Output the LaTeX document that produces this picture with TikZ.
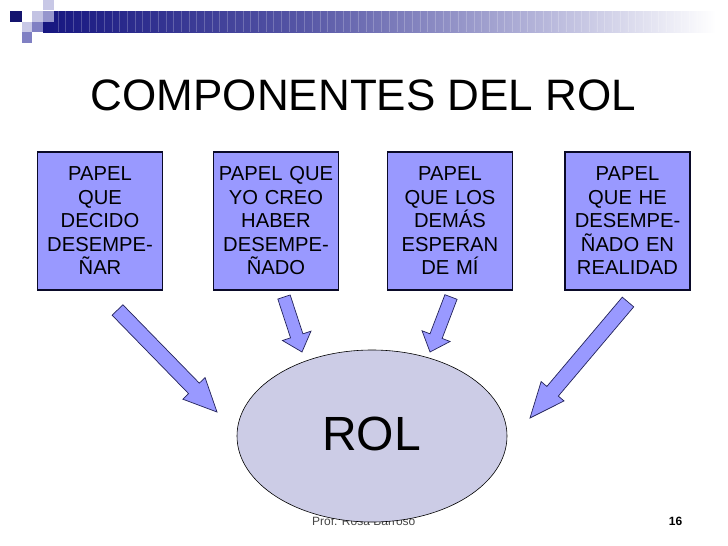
\documentclass[tikz,border=0pt]{standalone}
\usepackage{fontspec}
\setmainfont{Liberation Sans}
\usetikzlibrary{calc,shapes.geometric}
\definecolor{boxfill}{RGB}{153,153,255}
\definecolor{ellfill}{RGB}{204,204,230}
\definecolor{edgedark}{RGB}{10,10,40}
\definecolor{arrowedge}{RGB}{35,35,90}
\definecolor{bnA}{RGB}{22,22,128}
\definecolor{bnB}{RGB}{85,85,165}
\definecolor{bnC}{RGB}{185,185,220}
\definecolor{sqdark}{RGB}{20,20,110}
\definecolor{sqlight}{RGB}{200,200,230}
\definecolor{sqmid}{RGB}{150,150,205}
\definecolor{sqmed}{RGB}{128,128,195}
\definecolor{footgray}{RGB}{70,70,70}
\tikzset{
  papelbox/.style={draw=edgedark, line width=1.2pt, fill=boxfill, minimum width=125pt,
    minimum height=138pt, text width=124pt, align=center, inner sep=0pt,
    font=\fontsize{20.2}{23.5}\selectfont},
  rolell/.style={ellipse, draw=black, line width=0.6pt, fill=ellfill, minimum width=270pt,
    minimum height=172pt, inner sep=0pt},
  blockstyle/.style={draw=arrowedge, line width=0.7pt, fill=boxfill, line join=miter},
}
\newcommand{\blockarr}[5]{%
  \coordinate (#1h) at ($(#2)!#5!(#1)$);
  \draw[blockstyle] ($(#1)!#3!90:(#2)$) -- ($(#1h)!#3!90:(#2)$) -- ($(#1h)!#4!90:(#2)$)
    -- (#2) -- ($(#1h)!#4!-90:(#2)$) -- ($(#1h)!#3!-90:(#2)$) -- ($(#1)!#3!-90:(#2)$) -- cycle;
}
\begin{document}
\begin{tikzpicture}[x=1pt,y=-1pt]
\useasboundingbox[fill=white] (0,0) rectangle (728,546);
% banner
\shade[left color=bnA, right color=bnB] (43,11) rectangle (300,32);
\shade[left color=bnB, right color=bnC] (299.5,11) rectangle (550,32);
\shade[left color=bnC, right color=white] (549.5,11) rectangle (716,32);
\foreach \x in {58,65.7,...,700} \draw[white, opacity=0.22, line width=0.6pt] (\x,11) -- (\x,32);
\fill[sqdark] (10,11) rectangle (22,22);
\fill[sqlight] (43,0) rectangle (54,10);
\fill[sqlight!90!sqmid] (32,11) rectangle (43,22);
\fill[sqmid] (43,11) rectangle (54,22);
\fill[sqlight] (22,22) rectangle (32,32);
\fill[sqmed] (32,22) rectangle (43,32);
\fill[sqmed] (22,32) rectangle (32,43);
% title
\node[anchor=base, inner sep=0pt, font=\fontsize{44}{50}\selectfont] (title) at (363.5,110) {COMPONENTES DEL ROL};
% boxes
\node[papelbox] (b1) at (100,221) {PAPEL\\QUE\\DECIDO\\DESEMPE-\\ÑAR};
\node[papelbox] (b2) at (276,221) {PAPEL QUE\\YO CREO\\HABER\\DESEMPE-\\ÑADO};
\node[papelbox] (b3) at (450,221) {PAPEL\\QUE LOS\\DEMÁS\\ESPERAN\\DE MÍ};
\node[papelbox] (b4) at (627.5,221) {PAPEL\\QUE HE\\DESEMPE-\\ÑADO EN\\REALIDAD};
% footer
\node[anchor=base west, inner sep=0pt, text=footgray, font=\fontsize{12}{14}\selectfont] (foot) at (312,525) {Prof. Rosa Barroso};
\node[anchor=base, inner sep=0pt, font=\fontsize{12}{14}\selectfont\bfseries] (pnum) at (675.5,525) {16};
% ellipse
\node[rolell] (rol) at (372,436) {};
\node[anchor=base, inner sep=0pt, font=\fontsize{48}{52}\selectfont] (roltext) at (371.5,450) {ROL};
% arrows
\coordinate (t1) at (117.5,310); \coordinate (p1) at (217,412);
\coordinate (t2) at (284,297);   \coordinate (p2) at (302,352);
\coordinate (t3) at (451,297);   \coordinate (p3) at (430,352);
\coordinate (t4) at (628,302);   \coordinate (p4) at (530,418);
\blockarr{t1}{p1}{7.5pt}{15.5pt}{33pt}
\blockarr{t2}{p2}{6.5pt}{15pt}{17pt}
\blockarr{t3}{p3}{6.5pt}{15pt}{17pt}
\blockarr{t4}{p4}{7.5pt}{15pt}{35pt}
\end{tikzpicture}
\end{document}
